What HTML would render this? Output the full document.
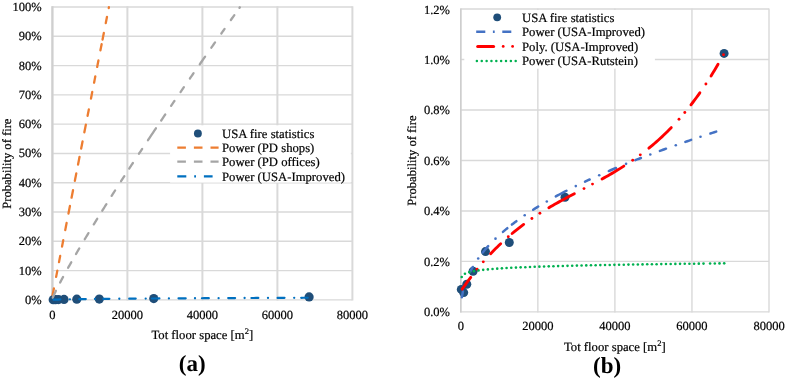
<!DOCTYPE html>
<html><head><meta charset="utf-8"><title>Probability of fire vs. total floor space</title>
<style>html,body{margin:0;padding:0;background:#fff;overflow:hidden}svg{display:block}text{text-rendering:geometricPrecision}.t{font-family:'Liberation Serif','Times New Roman',serif;font-size:12.5px;fill:#000;stroke:#000;stroke-width:0.2px}.b{font-family:'Liberation Serif','Times New Roman',serif;font-size:23px;font-weight:bold;fill:#000}</style>
</head><body>
<svg width="785" height="380" viewBox="0 0 785 380"><rect width="785" height="380" fill="#fff"/><g stroke="#d9d9d9" stroke-width="1.4" fill="none"><path d="M52.4 299.9H352.4"/><path d="M52.4 270.61H352.4"/><path d="M52.4 241.32H352.4"/><path d="M52.4 212.03H352.4"/><path d="M52.4 182.74H352.4"/><path d="M52.4 153.45H352.4"/><path d="M52.4 124.16H352.4"/><path d="M52.4 94.87H352.4"/><path d="M52.4 65.58H352.4"/><path d="M52.4 36.29H352.4"/><path d="M52.4 7H352.4"/></g><g stroke="#d9d9d9" stroke-width="2" fill="none"><path d="M52.4 6.3V300.6"/><path d="M127.4 6.3V300.6"/><path d="M202.4 6.3V300.6"/><path d="M277.4 6.3V300.6"/><path d="M352.4 6.3V300.6"/></g><path d="M52.4 6.3V300.6" stroke="#cfcfcf" stroke-width="2"/><g fill="#1f4e79"><circle cx="53.2" cy="299.64" r="4.6"/><circle cx="55.5" cy="299.68" r="4.6"/><circle cx="58.5" cy="299.58" r="4.6"/><circle cx="64" cy="299.43" r="4.6"/><circle cx="76.8" cy="299.2" r="4.6"/><circle cx="99.3" cy="299.09" r="4.6"/><circle cx="153.75" cy="298.57" r="4.6"/><circle cx="309.1" cy="296.9" r="4.6"/></g><g fill="none" stroke="#ed7d31" stroke-width="2.3" stroke-linecap="round"><path d="M108.74 8 L108.77 7.84 L108.81 7.68 L108.84 7.52 L108.87 7.36 L108.9 7.2"/><path d="M107.01 16.8 L106.77 18.06 L106.52 19.32 L106.27 20.58 L106.02 21.84 L105.78 23.1"/><path d="M103.83 33 L103.58 34.3 L103.32 35.6 L103.07 36.9 L102.81 38.2 L102.55 39.5"/><path d="M101.63 44.2 L101.39 45.42 L101.15 46.64 L100.91 47.86 L100.67 49.08 L100.43 50.3"/><path d="M98.43 60.5 L98.18 61.78 L97.93 63.06 L97.68 64.34 L97.43 65.62 L97.17 66.9"/><path d="M95.33 76.3 L95.08 77.58 L94.83 78.86 L94.58 80.14 L94.33 81.42 L94.07 82.7"/><path d="M92.25 92 L91.99 93.3 L91.74 94.6 L91.48 95.9 L91.23 97.2 L90.97 98.5"/><path d="M88.84 109.4 L88.59 110.68 L88.34 111.96 L88.08 113.24 L87.83 114.52 L87.58 115.8"/><path d="M85.86 124.6 L85.56 126.14 L85.25 127.68 L84.95 129.22 L84.65 130.76 L84.35 132.3"/><path d="M82.57 141.4 L82.29 142.82 L82.01 144.24 L81.73 145.66 L81.45 147.08 L81.18 148.5"/><path d="M79.55 156.8 L79.25 158.34 L78.95 159.88 L78.65 161.42 L78.34 162.96 L78.04 164.5"/><path d="M76.3 173.4 L76.01 174.88 L75.72 176.36 L75.43 177.84 L75.14 179.32 L74.85 180.8"/><path d="M73.02 190.2 L72.72 191.7 L72.43 193.2 L72.14 194.7 L71.84 196.2 L71.55 197.7"/><path d="M69.93 206 L69.64 207.5 L69.34 209 L69.05 210.5 L68.76 212 L68.46 213.5"/><path d="M66.61 223 L66.34 224.4 L66.06 225.8 L65.79 227.2 L65.52 228.6 L65.25 230"/><path d="M63.26 240.2 L63.01 241.46 L62.77 242.72 L62.52 243.98 L62.28 245.24 L62.03 246.5"/><path d="M60.2 255.9 L59.96 257.14 L59.72 258.38 L59.48 259.62 L59.24 260.86 L59 262.1"/><path d="M57.34 270.6 L57.1 271.86 L56.86 273.12 L56.61 274.38 L56.37 275.64 L56.12 276.9"/><path d="M53.9 288.4 L53.64 289.76 L53.37 291.12 L53.11 292.48 L52.85 293.84 L52.59 295.2"/></g><g fill="none" stroke="#a5a5a5" stroke-width="2.3" stroke-linecap="round"><path d="M239.46 7.9 L239.54 7.78 L239.63 7.66 L239.72 7.54 L239.8 7.42 L239.89 7.3"/><path d="M234.34 15.1 L233.64 16.08 L232.95 17.06 L232.25 18.04 L231.56 19.02 L230.86 20"/><path d="M224.56 28.9 L223.91 29.82 L223.26 30.74 L222.61 31.66 L221.97 32.58 L221.32 33.5"/><path d="M215.05 42.4 L214.31 43.46 L213.56 44.52 L212.82 45.58 L212.08 46.64 L211.33 47.7"/><path d="M205.11 56.6 L204.03 58.14 L202.96 59.68 L201.89 61.22 L200.81 62.76 L199.74 64.3"/><path d="M193.56 73.2 L192.83 74.26 L192.09 75.32 L191.36 76.38 L190.63 77.44 L189.89 78.5"/><path d="M183.9 87.2 L183.22 88.18 L182.55 89.16 L181.87 90.14 L181.2 91.12 L180.53 92.1"/><path d="M174.43 101 L173.77 101.98 L173.1 102.96 L172.43 103.94 L171.76 104.92 L171.09 105.9"/><path d="M165.25 114.5 L164.44 115.7 L163.62 116.9 L162.81 118.1 L162 119.3 L161.19 120.5"/><path d="M155.93 128.3 L154.33 130.68 L152.74 133.06 L151.15 135.44 L149.55 137.82 L147.97 140.2"/><path d="M142.18 148.9 L141.54 149.86 L140.91 150.82 L140.27 151.78 L139.64 152.74 L139 153.7"/><path d="M132.88 163 L132.15 164.12 L131.42 165.24 L130.68 166.36 L129.95 167.48 L129.22 168.6"/><path d="M124.34 176.1 L123.68 177.12 L123.02 178.14 L122.36 179.16 L121.7 180.18 L121.04 181.2"/><path d="M115.12 190.4 L114.42 191.5 L113.72 192.6 L113.01 193.7 L112.31 194.8 L111.61 195.9"/><path d="M106.41 204.1 L105.58 205.42 L104.75 206.74 L103.92 208.06 L103.09 209.38 L102.27 210.7"/><path d="M97.22 218.8 L96.53 219.92 L95.84 221.04 L95.15 222.16 L94.46 223.28 L93.77 224.4"/><path d="M88.45 233.1 L87.71 234.32 L86.98 235.54 L86.24 236.76 L85.51 237.98 L84.77 239.2"/><path d="M79.3 248.4 L78.64 249.52 L77.98 250.64 L77.32 251.76 L76.67 252.88 L76.02 254"/><path d="M71.29 262.2 L70.65 263.32 L70.02 264.44 L69.38 265.56 L68.75 266.68 L68.12 267.8"/><path d="M63.11 276.9 L62.51 278.02 L61.91 279.14 L61.31 280.26 L60.72 281.38 L60.13 282.5"/><path d="M55.92 290.8 L55.25 292.18 L54.59 293.56 L53.95 294.94 L53.33 296.32 L52.74 297.7"/></g><g fill="none" stroke="#0070c0" stroke-width="2.2" stroke-linecap="round"><path d="M53.6 299.72 L55.83 299.61 L58.07 299.54 L60.3 299.47"/><path d="M79.3 299.15 L81.47 299.12 L83.63 299.09 L85.8 299.07"/><path d="M103.4 298.89 L105.4 298.87 L107.4 298.85 L109.4 298.83"/><path d="M129.2 298.67 L131.37 298.66 L133.53 298.64 L135.7 298.63"/><path d="M152 298.52 L154.47 298.5 L156.93 298.49 L159.4 298.47"/><path d="M178.5 298.36 L180.9 298.34 L183.3 298.33 L185.7 298.32"/><path d="M201.9 298.23 L204.2 298.22 L206.5 298.21 L208.8 298.19"/><path d="M228.2 298.1 L230.5 298.09 L232.8 298.08 L235.1 298.07"/><path d="M251.4 297.99 L253.7 297.98 L256 297.97 L258.3 297.96"/><path d="M277.6 297.88 L279.9 297.87 L282.2 297.86 L284.5 297.85"/><path d="M301.2 297.78 L303.37 297.77 L305.53 297.77 L307.7 297.76"/></g><g fill="#0070c0"><circle cx="69.9" cy="299.28" r="1.15"/><circle cx="95" cy="298.97" r="1.15"/><circle cx="119.3" cy="298.75" r="1.15"/><circle cx="145.7" cy="298.56" r="1.15"/><circle cx="168.9" cy="298.41" r="1.15"/><circle cx="195" cy="298.27" r="1.15"/><circle cx="218.6" cy="298.14" r="1.15"/><circle cx="244.6" cy="298.02" r="1.15"/><circle cx="268" cy="297.92" r="1.15"/><circle cx="294.2" cy="297.81" r="1.15"/></g><rect x="170.1" y="125.3" width="180.7" height="57.3" fill="#fff"/><circle cx="197.9" cy="133.5" r="3.95" fill="#1f4e79"/><path d="M177.3 147.6H218.6" stroke="#ed7d31" stroke-width="2.3" stroke-dasharray="8.6 8"/><path d="M177.3 161.7H218.6" stroke="#a5a5a5" stroke-width="2.3" stroke-dasharray="8.6 8"/><path d="M177.3 176.3H212.6" stroke="#0070c0" stroke-width="2.2" stroke-dasharray="9 7.9 1.8 7.9"/><text x="222" y="137.7" class="t" style="font-size:12.7px">USA fire statistics</text><text x="222" y="151.8" class="t" style="font-size:12.7px">Power (PD shops)</text><text x="222" y="165.9" class="t" style="font-size:12.7px">Power (PD offices)</text><text x="222" y="180.5" class="t" style="font-size:12.7px">Power (USA-Improved)</text><g stroke="#d9d9d9" stroke-width="1.4" fill="none"><path d="M460.8 311.9H769"/><path d="M460.8 261.42H769"/><path d="M460.8 210.93H769"/><path d="M460.8 160.45H769"/><path d="M460.8 109.97H769"/><path d="M460.8 59.48H769"/><path d="M460.8 9H769"/><path d="M460.8 8.4V312.5"/><path d="M537.85 8.4V312.5"/><path d="M614.9 8.4V312.5"/><path d="M691.95 8.4V312.5"/><path d="M769 8.4V312.5"/></g><path d="M460.8 8.4V312.5" stroke="#cccccc" stroke-width="1.4"/><g fill="#1f4e79"><circle cx="461.3" cy="289.4" r="4.5"/><circle cx="463.7" cy="292.6" r="4.5"/><circle cx="466.8" cy="284.3" r="4.5"/><circle cx="473.1" cy="271.2" r="4.5"/><circle cx="485.5" cy="251.6" r="4.5"/><circle cx="509.3" cy="242.5" r="4.5"/><circle cx="565" cy="197.3" r="4.5"/><circle cx="724.1" cy="53.4" r="4.5"/></g><g fill="none" stroke="#4472c4" stroke-width="2.5" stroke-linecap="round"><path d="M461.84 297.3 L462.4 294.14 L462.96 291.52"/><path d="M470.09 271.98 L471.45 269.38 L472.81 266.95"/><path d="M482.81 252.45 L484.6 250.27 L486.4 248.18 L488.19 246.18"/><path d="M502.96 231.87 L504.42 230.62 L505.88 229.4 L507.34 228.19"/><path d="M511.9 224.57 L513.4 223.42 L514.9 222.28 L516.4 221.17"/><path d="M533.16 209.71 L534.85 208.64 L536.55 207.59 L538.24 206.54"/><path d="M555.8 196.41 L557.59 195.44 L559.37 194.49 L561.15 193.54 L562.93 192.6 L564.71 191.67 L566.5 190.75"/><path d="M585.03 181.65 L586.58 180.93 L588.12 180.21 L589.67 179.5"/><path d="M608.75 171.04 L610.55 170.27 L612.35 169.51 L614.15 168.76 L615.95 168"/><path d="M635.37 160.17 L637.22 159.45 L639.08 158.73 L640.93 158.01"/><path d="M659.88 150.91 L661.41 150.35 L662.95 149.79 L664.49 149.24 L666.02 148.68"/><path d="M685.38 141.87 L687.29 141.22 L689.21 140.56 L691.12 139.91"/><path d="M710.39 133.49 L712.33 132.86 L714.27 132.23 L716.21 131.6"/></g><g fill="#4472c4"><circle cx="478.2" cy="258.55" r="1.3"/><circle cx="495.5" cy="238.66" r="1.3"/><circle cx="524.7" cy="215.28" r="1.3"/><circle cx="546.8" cy="201.46" r="1.3"/><circle cx="575.8" cy="186.08" r="1.3"/><circle cx="599.2" cy="175.19" r="1.3"/><circle cx="626.1" cy="163.85" r="1.3"/><circle cx="650.3" cy="154.45" r="1.3"/><circle cx="675.8" cy="145.21" r="1.3"/><circle cx="700.5" cy="136.76" r="1.3"/></g><g fill="none" stroke="#ff0000" stroke-width="2.9" stroke-linecap="round"><path d="M462.15 289.17 L463.87 286.71 L465.59 284.29 L467.31 281.92 L469.03 279.59 L470.75 277.31"/><path d="M490.62 253.78 L492.3 252.02 L493.97 250.3 L495.65 248.6 L497.33 246.94 L499 245.31 L500.68 243.71"/><path d="M512.14 233.5 L514.06 231.91 L515.98 230.35 L517.9 228.83 L519.82 227.33 L521.74 225.86 L523.66 224.43"/><path d="M548.87 207.77 L550.83 206.61 L552.79 205.47 L554.74 204.35 L556.7 203.23 L558.66 202.13 L560.62 201.04 L562.58 199.97 L564.54 198.9 L566.5 197.84 L568.46 196.79 L570.41 195.74 L572.37 194.7 L574.33 193.67"/><path d="M602.05 178.96 L604.03 177.87 L606.01 176.76 L608 175.64 L609.98 174.51 L611.96 173.37 L613.94 172.2 L615.92 171.03 L617.9 169.83 L619.89 168.62 L621.87 167.39 L623.85 166.14"/><path d="M648.87 148.19 L650.73 146.66 L652.6 145.1 L654.46 143.51 L656.32 141.89 L658.19 140.23 L660.05 138.54 L661.91 136.82 L663.78 135.05 L665.64 133.26 L667.5 131.42 L669.37 129.55 L671.23 127.64"/><path d="M690.96 104.8 L692.74 102.49 L694.51 100.14 L696.29 97.74 L698.06 95.29 L699.84 92.8"/><path d="M711.05 75.93 L712.8 73.11 L714.55 70.25 L716.3 67.33 L718.05 64.35"/></g><g fill="#ff0000"><circle cx="477.1" cy="269.22" r="1.45"/><circle cx="483.3" cy="261.86" r="1.45"/><circle cx="508.3" cy="236.78" r="1.45"/><circle cx="531.9" cy="218.56" r="1.45"/><circle cx="539.9" cy="213.28" r="1.45"/><circle cx="584" cy="188.59" r="1.45"/><circle cx="592.5" cy="184.11" r="1.45"/><circle cx="632.7" cy="160.28" r="1.45"/><circle cx="640.3" cy="154.84" r="1.45"/><circle cx="679" cy="119.23" r="1.45"/><circle cx="684.8" cy="112.47" r="1.45"/><circle cx="705.9" cy="83.93" r="1.45"/><circle cx="723.5" cy="54.75" r="1.45"/></g><g fill="#00b050"><circle cx="461.7" cy="277.05" r="1.3"/><circle cx="464.95" cy="273.8" r="1.3"/><circle cx="469.33" cy="272.16" r="1.3"/><circle cx="473.91" cy="271.15" r="1.3"/><circle cx="478.55" cy="270.42" r="1.3"/><circle cx="483.2" cy="269.86" r="1.3"/><circle cx="487.87" cy="269.39" r="1.3"/><circle cx="492.54" cy="268.99" r="1.3"/><circle cx="497.22" cy="268.65" r="1.3"/><circle cx="501.9" cy="268.34" r="1.3"/><circle cx="506.58" cy="268.06" r="1.3"/><circle cx="511.26" cy="267.81" r="1.3"/><circle cx="515.95" cy="267.58" r="1.3"/><circle cx="520.63" cy="267.37" r="1.3"/><circle cx="525.32" cy="267.18" r="1.3"/><circle cx="530.01" cy="266.99" r="1.3"/><circle cx="534.69" cy="266.82" r="1.3"/><circle cx="539.38" cy="266.66" r="1.3"/><circle cx="544.07" cy="266.5" r="1.3"/><circle cx="548.75" cy="266.36" r="1.3"/><circle cx="553.44" cy="266.22" r="1.3"/><circle cx="558.13" cy="266.09" r="1.3"/><circle cx="562.82" cy="265.96" r="1.3"/><circle cx="567.51" cy="265.84" r="1.3"/><circle cx="572.2" cy="265.73" r="1.3"/><circle cx="576.88" cy="265.62" r="1.3"/><circle cx="581.57" cy="265.51" r="1.3"/><circle cx="586.26" cy="265.4" r="1.3"/><circle cx="590.95" cy="265.31" r="1.3"/><circle cx="595.64" cy="265.21" r="1.3"/><circle cx="600.33" cy="265.12" r="1.3"/><circle cx="605.02" cy="265.02" r="1.3"/><circle cx="609.71" cy="264.94" r="1.3"/><circle cx="614.4" cy="264.85" r="1.3"/><circle cx="619.09" cy="264.77" r="1.3"/><circle cx="623.78" cy="264.69" r="1.3"/><circle cx="628.46" cy="264.61" r="1.3"/><circle cx="633.15" cy="264.53" r="1.3"/><circle cx="637.84" cy="264.46" r="1.3"/><circle cx="642.53" cy="264.39" r="1.3"/><circle cx="647.22" cy="264.32" r="1.3"/><circle cx="651.91" cy="264.25" r="1.3"/><circle cx="656.6" cy="264.18" r="1.3"/><circle cx="661.29" cy="264.11" r="1.3"/><circle cx="665.98" cy="264.05" r="1.3"/><circle cx="670.67" cy="263.99" r="1.3"/><circle cx="675.36" cy="263.92" r="1.3"/><circle cx="680.05" cy="263.86" r="1.3"/><circle cx="684.74" cy="263.8" r="1.3"/><circle cx="689.43" cy="263.75" r="1.3"/><circle cx="694.12" cy="263.69" r="1.3"/><circle cx="698.81" cy="263.63" r="1.3"/><circle cx="703.5" cy="263.58" r="1.3"/><circle cx="710.1" cy="263.5" r="1.3"/><circle cx="714.8" cy="263.45" r="1.3"/><circle cx="719.5" cy="263.4" r="1.3"/><circle cx="724.2" cy="263.35" r="1.3"/></g><rect x="464.3" y="10" width="190.6" height="58.7" fill="#fff"/><circle cx="497.2" cy="17.3" r="3.9" fill="#1f4e79"/><path d="M476.2 31.8H511.3" stroke="#4472c4" stroke-width="2.4" stroke-dasharray="9.1 7.6 1.8 7.6"/><path d="M477.7 46.4H493.6" stroke="#ff0000" stroke-width="3" stroke-linecap="round"/><circle cx="503.2" cy="46.4" r="1.4" fill="#ff0000"/><circle cx="512.6" cy="46.4" r="1.4" fill="#ff0000"/><g fill="#00b050"><circle cx="476.9" cy="60.9" r="1.25"/><circle cx="481.75" cy="60.9" r="1.25"/><circle cx="486.6" cy="60.9" r="1.25"/><circle cx="491.45" cy="60.9" r="1.25"/><circle cx="496.3" cy="60.9" r="1.25"/><circle cx="501.15" cy="60.9" r="1.25"/><circle cx="506" cy="60.9" r="1.25"/><circle cx="510.85" cy="60.9" r="1.25"/><circle cx="515.7" cy="60.9" r="1.25"/></g><text x="522" y="21.5" class="t" style="font-size:12.7px">USA fire statistics</text><text x="522" y="36" class="t" style="font-size:12.7px">Power (USA-Improved)</text><text x="522" y="50.6" class="t" style="font-size:12.7px">Poly. (USA-Improved)</text><text x="522" y="65.1" class="t" style="font-size:12.7px">Power (USA-Rutstein)</text><text x="41.6" y="303.9" text-anchor="end" class="t">0%</text><text x="41.6" y="274.61" text-anchor="end" class="t">10%</text><text x="41.6" y="245.32" text-anchor="end" class="t">20%</text><text x="41.6" y="216.03" text-anchor="end" class="t">30%</text><text x="41.6" y="186.74" text-anchor="end" class="t">40%</text><text x="41.6" y="157.45" text-anchor="end" class="t">50%</text><text x="41.6" y="128.16" text-anchor="end" class="t">60%</text><text x="41.6" y="98.87" text-anchor="end" class="t">70%</text><text x="41.6" y="69.58" text-anchor="end" class="t">80%</text><text x="41.6" y="40.29" text-anchor="end" class="t">90%</text><text x="41.6" y="11" text-anchor="end" class="t">100%</text><text x="52.4" y="318.8" text-anchor="middle" class="t">0</text><text x="127.4" y="318.8" text-anchor="middle" class="t">20000</text><text x="202.4" y="318.8" text-anchor="middle" class="t">40000</text><text x="277.4" y="318.8" text-anchor="middle" class="t">60000</text><text x="352.4" y="318.8" text-anchor="middle" class="t">80000</text><text x="450" y="316.4" text-anchor="end" class="t">0.0%</text><text x="450" y="265.92" text-anchor="end" class="t">0.2%</text><text x="450" y="215.43" text-anchor="end" class="t">0.4%</text><text x="450" y="164.95" text-anchor="end" class="t">0.6%</text><text x="450" y="114.47" text-anchor="end" class="t">0.8%</text><text x="450" y="63.98" text-anchor="end" class="t">1.0%</text><text x="450" y="13.5" text-anchor="end" class="t">1.2%</text><text x="460.8" y="330.3" text-anchor="middle" class="t">0</text><text x="537.85" y="330.3" text-anchor="middle" class="t">20000</text><text x="614.9" y="330.3" text-anchor="middle" class="t">40000</text><text x="691.95" y="330.3" text-anchor="middle" class="t">60000</text><text x="769" y="330.3" text-anchor="middle" class="t">80000</text><text transform="translate(10.5 163.65) rotate(-90)" text-anchor="middle" class="t" style="font-size:12.6px">Probability of fire</text><text transform="translate(416.3 160.6) rotate(-90)" text-anchor="middle" class="t" style="font-size:12.6px">Probability of fire</text><text x="202.3" y="338.5" text-anchor="middle" class="t" style="font-size:12.7px">Tot floor space [m<tspan font-size="8.5px" dy="-4.6">2</tspan><tspan dy="4.6">]</tspan></text><text x="614.8" y="350.6" text-anchor="middle" class="t" style="font-size:12.7px">Tot floor space [m<tspan font-size="8.5px" dy="-4.6">2</tspan><tspan dy="4.6">]</tspan></text><text x="192.2" y="371" text-anchor="middle" class="b">(a)</text><text x="607.1" y="373" text-anchor="middle" class="b">(b)</text></svg>
</body></html>
